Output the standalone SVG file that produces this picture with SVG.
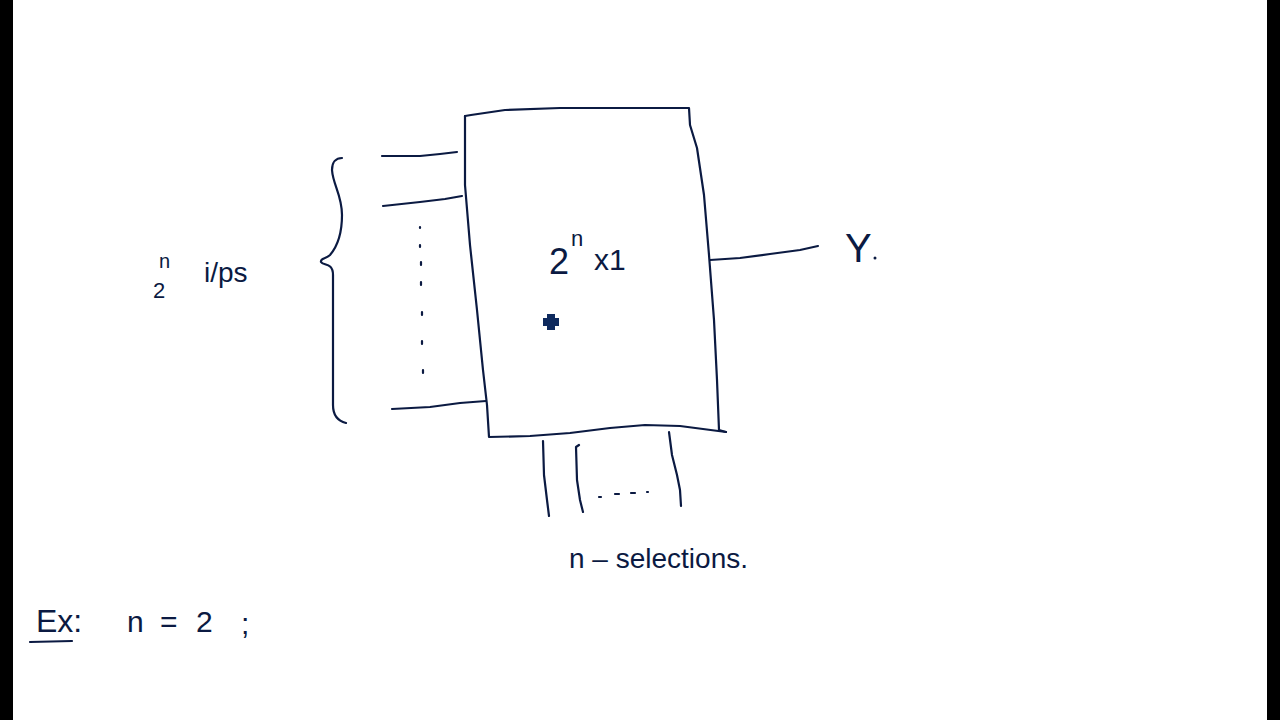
<svg xmlns="http://www.w3.org/2000/svg" width="1280" height="720" viewBox="0 0 1280 720">
<style>
.ink{fill:none;stroke:#0b1a42;stroke-width:2.2;stroke-linecap:round;stroke-linejoin:round}
.dot{fill:none;stroke:#0b1a42;stroke-width:2.2;stroke-linecap:round}
.t{fill:#0b1a42;font-family:"Liberation Sans",Arial,sans-serif}
</style>
<rect x="0" y="0" width="1280" height="720" fill="#ffffff"/>
<rect x="0" y="0" width="13" height="720" fill="#000"/>
<rect x="1267" y="0" width="13" height="720" fill="#000"/>

<g id="mux">
<path class="ink" d="M465,116 L471,115 L505,110 L560,108 L620,108 L689,108 L690,125 L697,148 L704,195 L709,255 L714,320 L717,380 L719,430 L726,432"/>
<path class="ink" d="M465,116 L465,185 L470,245 L477,310 L483,370 L487,405 L489,437 L530,436 L570,433 L610,428 L645,425 L680,426 L726,432"/>
<text class="t" x="549" y="274" font-size="36">2</text>
<text class="t" x="571" y="246" font-size="22">n</text>
<text class="t" x="594" y="270" font-size="30">x1</text>
<path d="M547,314 h8 v4 h4 v8 h-4 v4 h-8 v-4 h-4 v-8 h4 z" fill="#0e2a5e"/>
</g>

<g id="inputs">
<text class="t" x="153" y="298" font-size="22">2</text>
<text class="t" x="159" y="268" font-size="20">n</text>
<text class="t" x="204" y="282" font-size="28">i/ps</text>
<path class="ink" d="M342,158 C336,158 332,162 332,170 C333,185 342,195 342,215 C342,235 336,248 330,255 C326,259 320,258 321,262 C323,266 333,262 333,275 L333,405 C333,415 338,421 346,423"/>
</g>

<g id="output">
<text class="t" x="845" y="262" font-size="40">Y</text>
<circle cx="875" cy="258" r="1.5" fill="#0b1a42"/>
</g>

<g id="selections">
<text class="t" x="569" y="568" font-size="28">n – selections.</text>
</g>

<g id="example">
<text class="t" x="36" y="632" font-size="32">Ex:</text>
<path class="ink" d="M30,642 L72,641"/>
<text class="t" y="632" font-size="30"><tspan x="127">n</tspan><tspan x="160">=</tspan><tspan x="196">2</tspan></text>
<text class="t" x="241" y="634" font-size="30">;</text>
</g>

<g id="connectors">
<path class="ink" d="M382,156 L420,156 L440,154 L457,152"/>
<path class="ink" d="M383,206 L420,202 L445,199 L462,196"/>
<path class="ink" d="M392,409 L430,407 L460,403 L486,401"/>
<path class="dot" d="M420,227 v1 M420,245 v2 M421,262 v3 M421,282 v3 M422,312 v3 M422,341 v3 M423,370 v3"/>
<path class="ink" d="M710,260 L740,258 L770,254 L800,250 L818,246"/>
<path class="ink" d="M543,441 L544,475 L547,500 L549,516"/>
<path class="ink" d="M579,445 L576,447 L577,480 L580,500 L583,512"/>
<path class="ink" d="M669,432 L672,455 L677,475 L680,490 L681,506"/>
<path class="dot" d="M599,497 h2 M615,494 h4 M631,493 h4 M647,492 h1"/>
</g>
</svg>
